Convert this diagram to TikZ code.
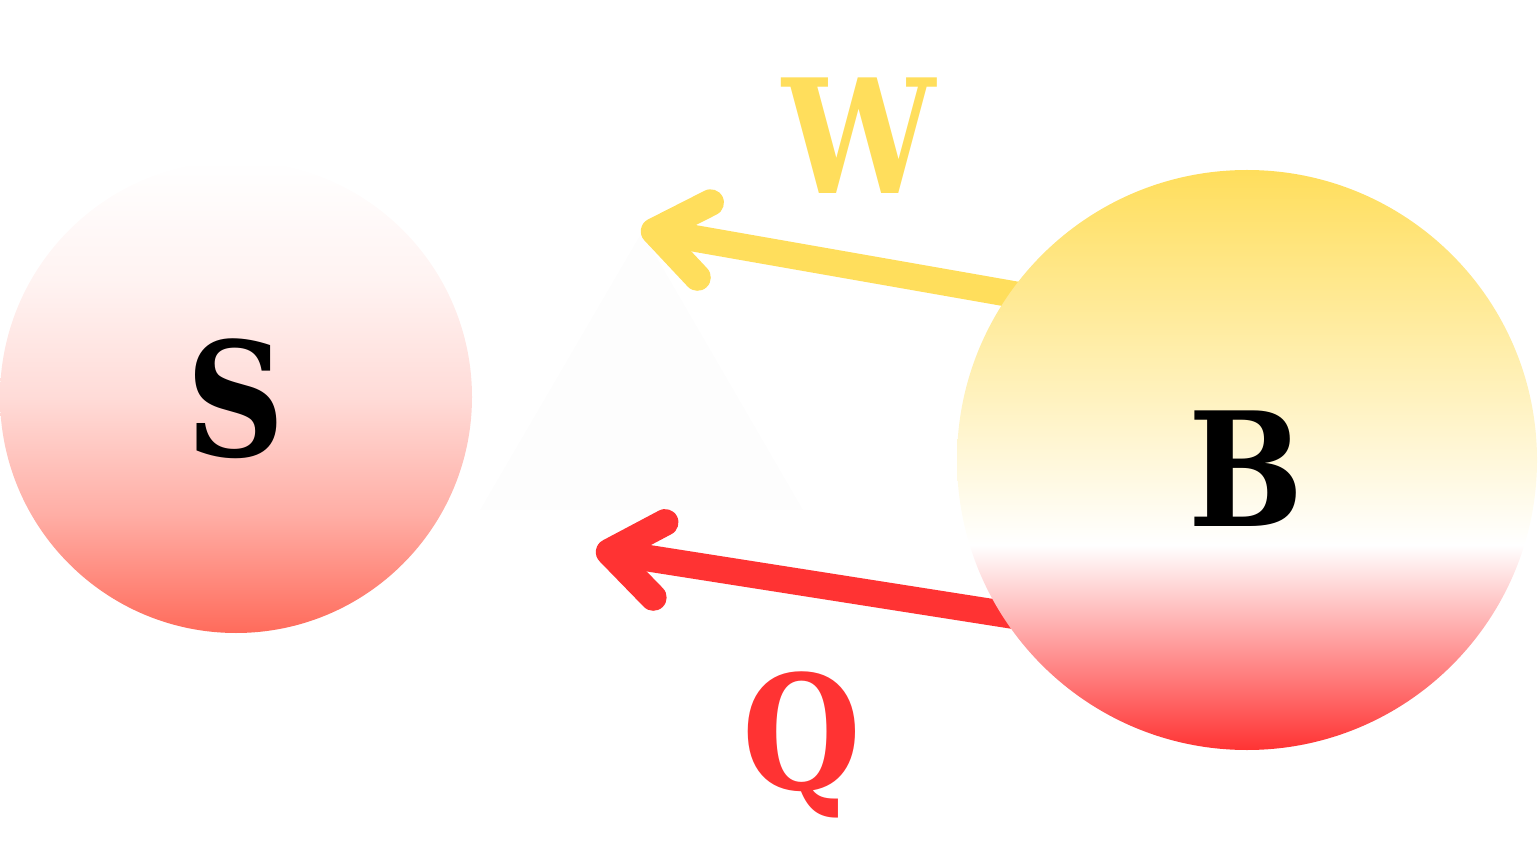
\documentclass[tikz,border=0pt]{standalone}
\usepackage{fontspec}
\setmainfont[FakeStretch=0.86]{DejaVu Serif}
\usetikzlibrary{arrows.meta,calc}
\pgfdeclarelayer{background}
\pgfsetlayers{background,main}
\definecolor{sunY}{HTML}{FFDE5C}
\definecolor{heatR}{HTML}{FF3333}
\definecolor{salmon}{HTML}{FF6B5B}
\definecolor{faint}{HTML}{FDFDFD}
\pgfdeclareverticalshading{Sshade}{100bp}{color(0bp)=(salmon); color(25bp)=(salmon); color(37.5bp)=(salmon!55!white); color(50bp)=(salmon!24!white); color(62.5bp)=(salmon!8!white); color(75bp)=(white); color(100bp)=(white)}
\pgfdeclareverticalshading{Bshade}{100bp}{color(0bp)=(heatR); color(25bp)=(heatR); color(42.7bp)=(white); color(75bp)=(sunY); color(100bp)=(sunY)}
\begin{document}
\begin{tikzpicture}[x=0.75pt,y=-0.75pt,
  ball/.style={circle, inner sep=0pt, outer sep=0pt},
  letter/.style={font=\fontsize{119}{119}\selectfont\bfseries, inner sep=0pt, anchor=base},
  flow/.style={line width=20pt, -{Straight Barb[round, length=38pt, width=57pt]}}]
\useasboundingbox (0,0) rectangle (1538,862);
\node[ball, minimum size=354pt, shading=Sshade] (S) at (236,397) {};
\node[ball, minimum size=435pt, shading=Bshade] (B) at (1247,460) {};
\node[letter] (Slab) at (236,457) {S};
\node[letter] (Blab) at (1246,526) {B};
\node[letter, text=sunY] (Wlab) at (859,194) {W};
\node[letter, text=heatR] (Qlab) at (802,789) {Q};
\coordinate (wtip) at (641,229);
\coordinate (qtip) at (596,550);
\begin{pgfonlayer}{background}
\fill[faint] (642,232) -- (480,510) -- (803,510) -- cycle;
\draw[flow, sunY] ($(B.145)!-40pt!(wtip)$) -- (wtip);
\draw[flow, heatR] ($(B.212)!-40pt!(qtip)$) -- (qtip);
\end{pgfonlayer}
\end{tikzpicture}
\end{document}
